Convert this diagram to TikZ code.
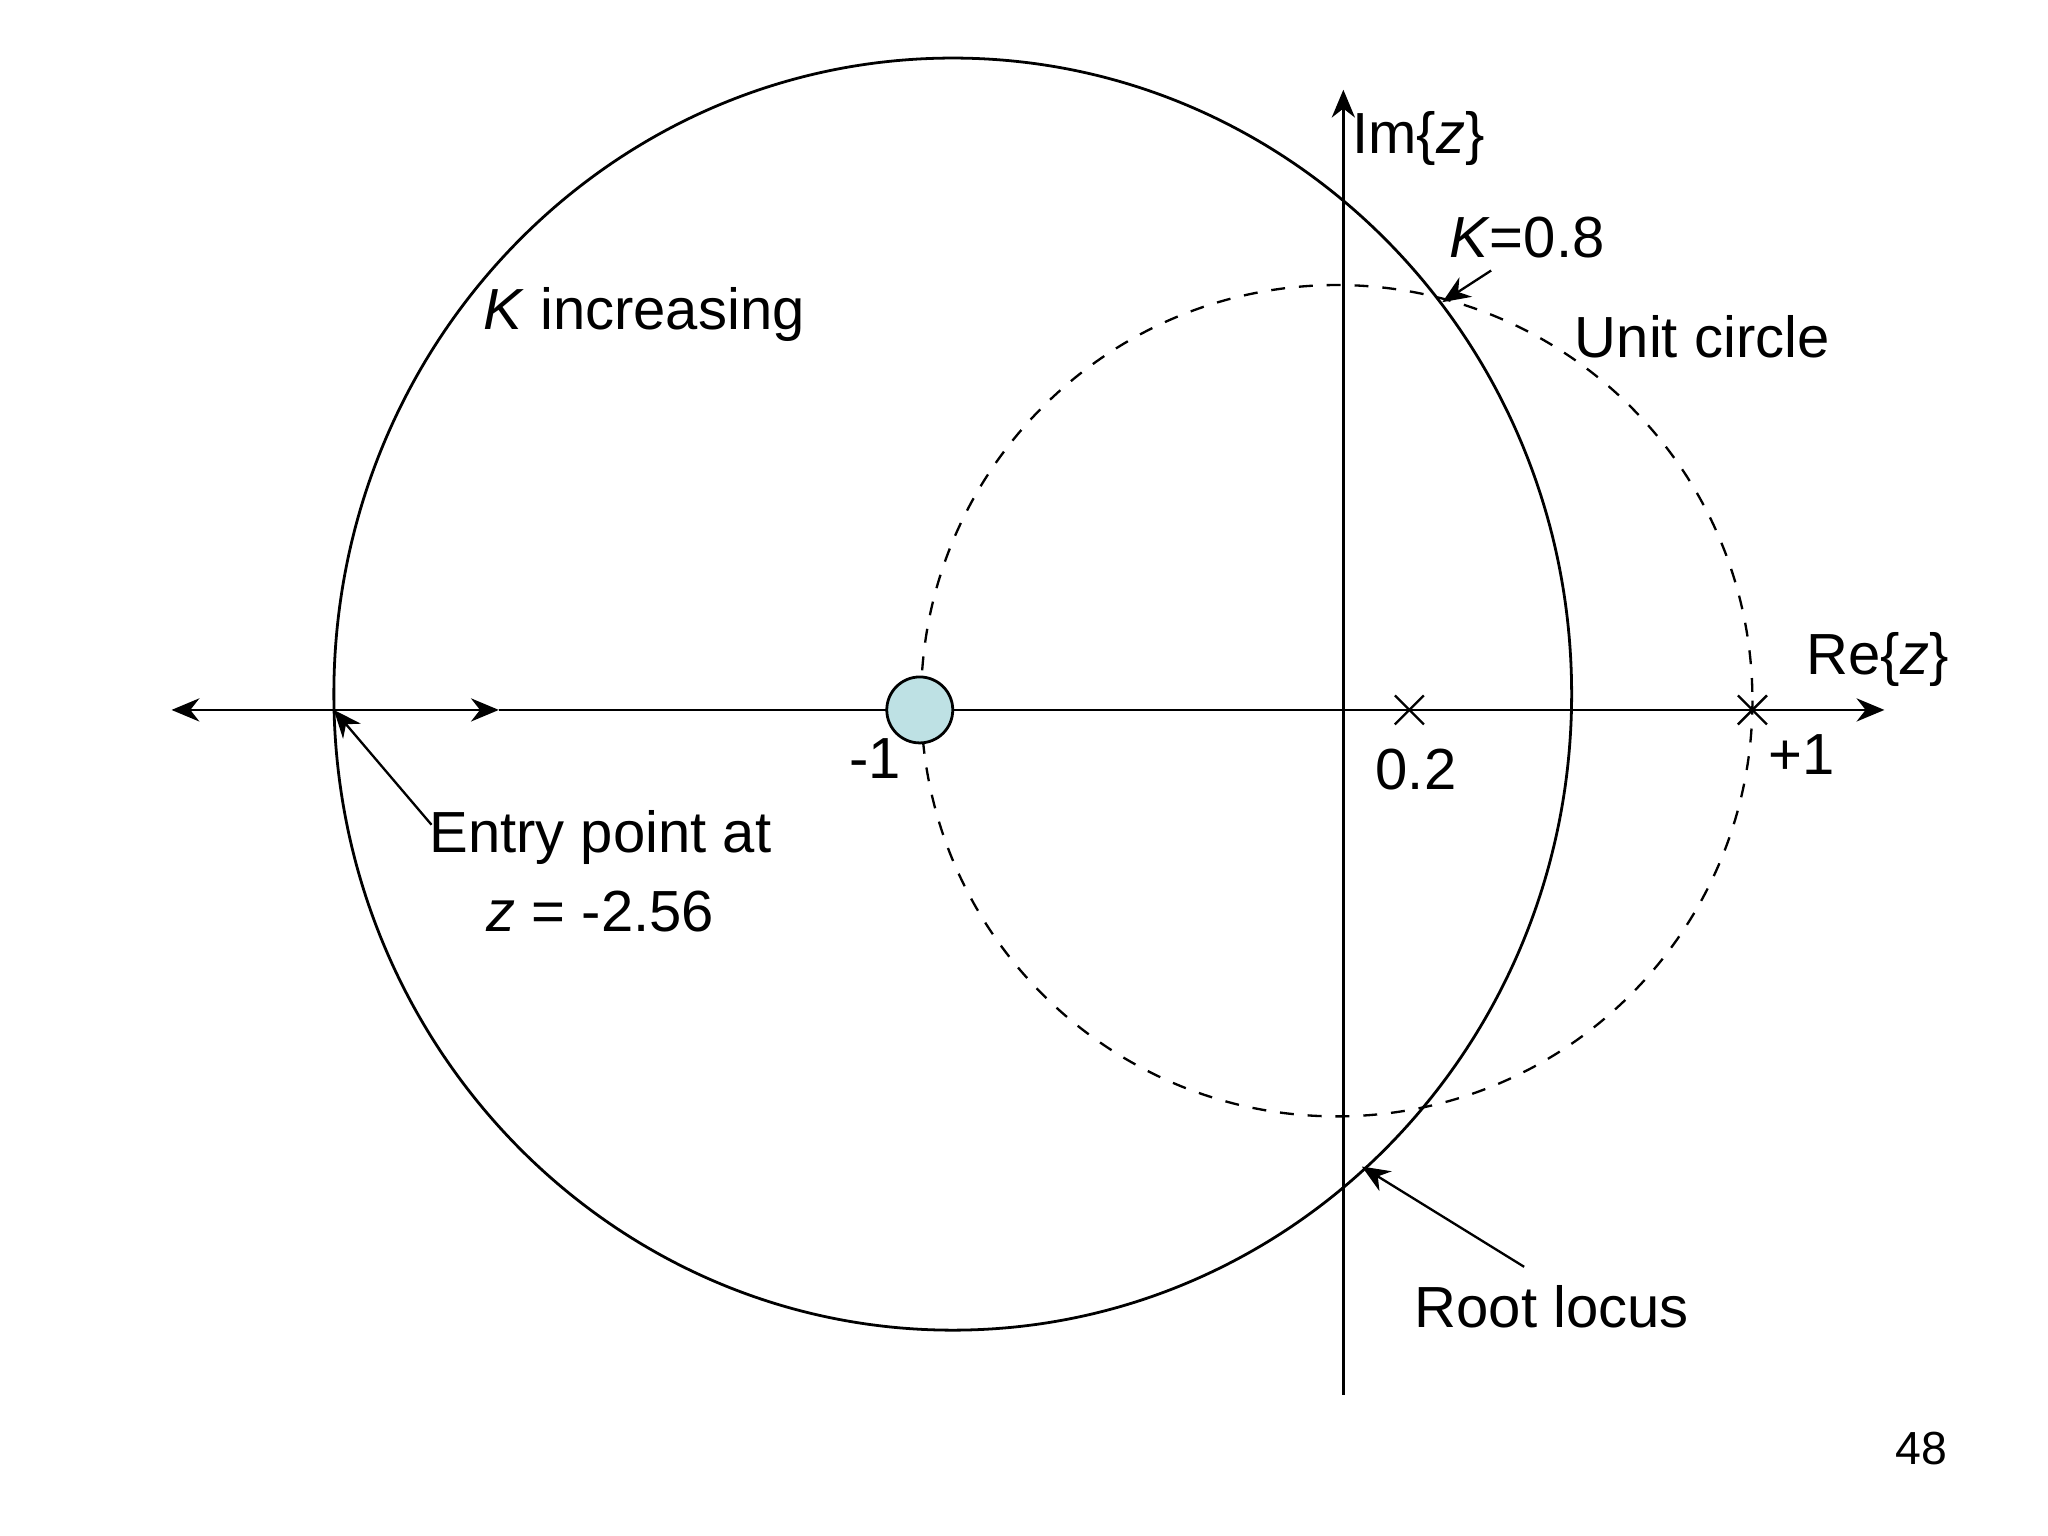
\documentclass[tikz,border=0pt]{standalone}
\usepackage{fontspec}
\setmainfont{Liberation Sans}
\usetikzlibrary{arrows.meta}
\definecolor{zerofill}{RGB}{190,225,228}
\begin{document}
\begin{tikzpicture}[x=0.01cm,y=-0.01cm,
  lbl/.style={font=\fontsize{12.5}{15}\selectfont,inner sep=0pt},
  arr/.style={-{Stealth[length=6pt,width=5pt]},line width=0.5pt},
  cr/.style={line width=0.5pt}]
\useasboundingbox (0,0) rectangle (1552,1164);
% axes
\coordinate (ent) at (253,538);
\coordinate (L) at (130,538);
\coordinate (R1) at (378,538);
\coordinate (Rend) at (1428,538);
\coordinate (Ib) at (1018,1057);
\coordinate (It) at (1018,68);
\draw[arr] (ent) -- (L);
\draw[arr] (ent) -- (R1);
\draw[arr] (R1) -- (Rend);
\draw[arr] (Ib) -- (It);
% circles
\draw[line width=0.6pt] (722,526) ellipse [x radius=469, y radius=482];
\draw[dashed,line width=0.5pt] (1013,531) ellipse [x radius=315, y radius=315];
\node[circle,draw,fill=zerofill,minimum size=50*0.01cm,inner sep=0pt,line width=0.6pt] (zero) at (697,538) {};
% poles
\foreach \px in {1068,1328}{
  \draw[cr] (\px-11,538-11) -- (\px+11,538+11);
  \draw[cr] (\px-11,538+11) -- (\px+11,538-11);
}
% labels
\node[lbl] (im) at (1075,105) {Im\{\textit{z}\}};
\node[lbl] (re) at (1423,500) {Re\{\textit{z}\}};
\node[lbl] (k08) at (1157,180) {\textit{K}=0.8};
\node[lbl] (uc) at (1290,255) {Unit circle};
\node[lbl] (kinc) at (488,238) {\textit{K} increasing};
\node[lbl] (m1) at (663,575) {-1};
\node[lbl] (p2) at (1073,583) {0.2};
\node[lbl] (p1) at (1365,572) {+1};
\node[lbl,align=center] (entry) at (455,660) {Entry point at\\[2pt]\textit{z} = -2.56};
\node[lbl] (rl) at (1176,990) {Root locus};
\node[font=\fontsize{10}{12}\selectfont,inner sep=0pt] (pg) at (1456,1098) {48};
% pointers
\coordinate (k08a) at (1130,205);
\coordinate (k08b) at (1093,229);
\draw[arr] (k08a) -- (k08b);
\coordinate (ea) at (327,625);
\draw[arr] (ea) -- (ent);
\coordinate (rla) at (1155,960);
\coordinate (rlb) at (1032,884);
\draw[arr] (rla) -- (rlb);
\end{tikzpicture}
\end{document}
